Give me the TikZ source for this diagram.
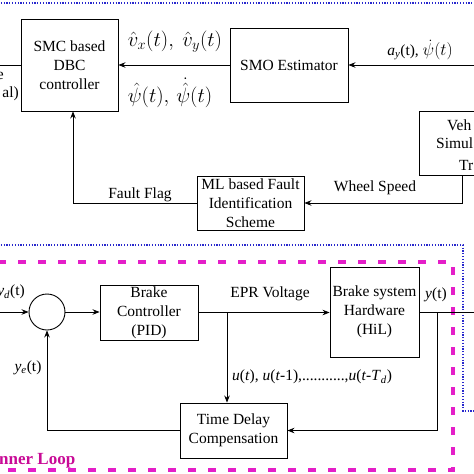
\documentclass[tikz,border=0pt]{standalone}
\usepackage{amsmath,amssymb}
\usepackage{fontspec}
\setmainfont{Liberation Serif}
\usepackage{tikz}
\usetikzlibrary{positioning,arrows.meta,calc}
\usepackage{xcolor}
\definecolor{loopmagenta}{RGB}{228,30,200}
\definecolor{looptext}{RGB}{200,10,150}
\definecolor{outerblue}{RGB}{40,40,205}

\begin{document}
\begin{tikzpicture}[x=1pt,y=-1pt,
  font=\fontsize{15.5}{19}\selectfont,
  blk/.style={rectangle,draw,line width=0.9pt,align=center,inner sep=0pt},
  txt/.style={inner sep=0pt},
  mathlbl/.style={inner sep=0pt,font=\fontsize{20}{24}\selectfont},
  sig/.style={-{Stealth[length=7pt,width=5.5pt]},line width=0.8pt},
  wire/.style={line width=0.8pt},
  outer/.style={outerblue,line width=2pt,dash pattern=on 1.2pt off 1.6pt},
  inner/.style={loopmagenta,line width=3.5pt,dash pattern=on 8pt off 12pt}]
\useasboundingbox (0,0) rectangle (474,474);
\clip (0,0) rectangle (474,474);
% Loop frames
\draw[outer] (-2,3) -- (476,3);
\draw[outer] (-2,245) -- (463,245) -- (463,411) -- (476,411);
\draw[inner] (-2,262) -- (453,262) -- (453,470) -- (-2,470);
\node[txt,anchor=west,text=looptext,font=\fontsize{17}{19}\selectfont\bfseries] (looplabel) at (-1,461) {nner Loop};
% Outer loop blocks
\node[blk,minimum width=97pt,minimum height=92pt] (smc) at (69.5,65) {SMC based\\DBC\\controller};
\node[blk,minimum width=118pt,minimum height=74pt] (smo) at (289,65) {SMO Estimator};
\node[blk,minimum width=110pt,minimum height=64pt] (veh) at (474,143) {};
\node[txt,anchor=west] (vehA) at (447,125) {Veh};
\node[txt,anchor=west] (vehB) at (436,143) {Simul};
\node[txt,anchor=west] (vehC) at (459,165) {Tr};
\node[blk,minimum width=107pt,minimum height=54pt] (ml) at (250.5,203) {ML based Fault\\Identification\\Scheme};
% Outer loop signals
\coordinate (presout) at (0,65);
\coordinate (sensin) at (474,65);
\draw[wire] (smc.west) -- (presout);
\draw[sig] (smo.west) -- (smc.east);
\draw[sig] (sensin) -- (smo.east);
\draw[sig] ([xshift=-12pt]veh.south) |- (ml.east);
\draw[sig] (ml.west) -| ([xshift=3.5pt]smc.south);
\node[txt,anchor=east] (refA) at (4,76) {e};
\node[txt,anchor=east] (refB) at (19,94) {al)};
\node[mathlbl] (vhat) at (175,42) {$\hat{v}_x(t),\ \hat{v}_y(t)$};
\node[mathlbl] (psihat) at (170,93) {$\hat{\psi}(t),\,\dot{\hat{\psi}}(t)$};
\node (meas) at (420,50) {\textit{a}\textsubscript{\textit{y}}(t), {\fontsize{17}{19}\selectfont$\dot{\psi}(t)$}};
\node (ws) at (375,188) {Wheel Speed};
\node (ff) at (140,195) {Fault Flag};
% Inner loop blocks
\node[circle,draw,line width=0.9pt,minimum size=36pt,inner sep=0pt] (sum) at (47,312) {};
\node[blk,minimum width=98pt,minimum height=55pt] (pid) at (149,312.5) {Brake\\Controller\\(PID)};
\node[blk,minimum width=89pt,minimum height=90pt] (hil) at (374.5,312) {Brake system\\Hardware\\(HiL)};
\node[blk,minimum width=107pt,minimum height=55pt] (tdc) at (233.5,430.5) {Time Delay\\Compensation};
% Inner loop signals
\coordinate (ydin) at (0,312);
\coordinate (ubranch) at (227,312.5);
\coordinate (yout) at (474,312);
\coordinate (ybranch) at (437,312);
\draw[sig] (ydin) -- (sum.west);
\draw[sig] (sum.east) -- (sum.east -| pid.west);
\draw[sig] (pid.east) -- (pid.east -| hil.west);
\draw[sig] (ubranch) -- (ubranch |- tdc.north);
\draw[wire] (hil.east) -- (yout);
\draw[sig] (ybranch) |- (tdc.east);
\draw[sig] (tdc.west) -| (sum.south);
\node[txt,anchor=east] (yd) at (25,292) {\textit{y}\textsubscript{\textit{d}}(t)};
\node (epr) at (270,294) {EPR Voltage};
\node (yt) at (436,295) {\textit{y}(t)};
\node[txt,anchor=west] (useq) at (232,377) {\textit{u}(\textit{t}), \textit{u}(\textit{t}-1),...........,\textit{u}(\textit{t}-\textit{T}\textsubscript{\textit{d}})};
\node (ye) at (28,368) {\textit{y}\textsubscript{\textit{e}}(t)};
\end{tikzpicture}
\end{document}
